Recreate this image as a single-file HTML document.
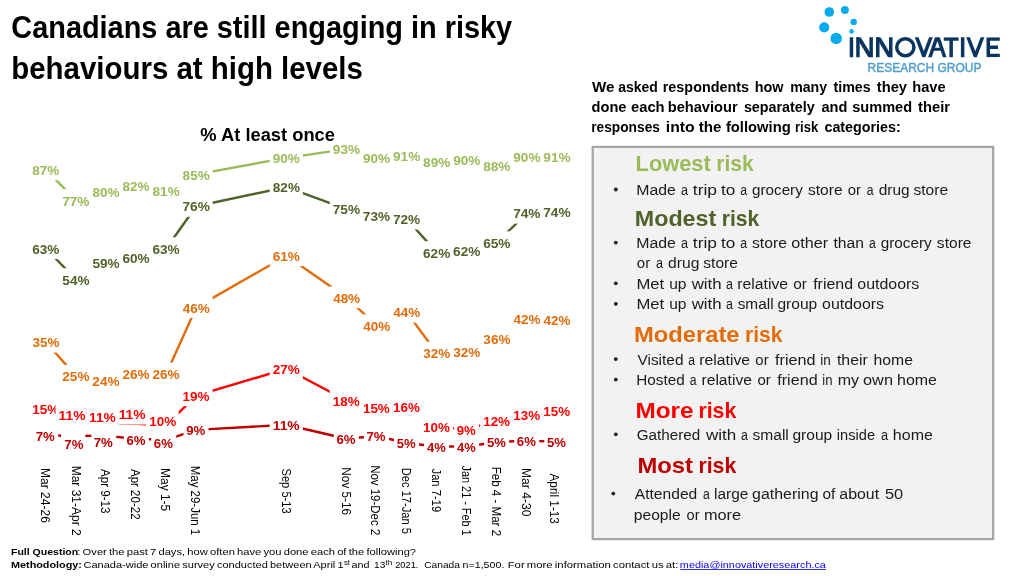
<!DOCTYPE html>
<html><head><meta charset="utf-8"><title>Canadians are still engaging in risky behaviours at high levels</title>
<style>
html,body{margin:0;padding:0;background:#fff;}
body{width:1024px;height:576px;overflow:hidden;font-family:"Liberation Sans",sans-serif;}
svg{display:block;will-change:transform;}
svg text{font-family:"Liberation Sans",sans-serif;white-space:pre;}
</style></head><body>
<svg width="1024" height="576" viewBox="0 0 1024 576">
<text x="11.32" y="38.00" font-size="30.6" fill="#000" font-weight="bold" textLength="500.83" lengthAdjust="spacingAndGlyphs">Canadians are still engaging in risky</text>
<text x="11.29" y="78.50" font-size="30.6" fill="#000" font-weight="bold" textLength="351.60" lengthAdjust="spacingAndGlyphs">behaviours at high levels</text>
<polyline points="45.9,169.60 75.97,200.40 106.03,192.25 136.09,185.90 166.16,190.75 196.23,174.40 286.42,157.90 346.55,149.10 376.62,157.60 406.68,155.60 436.75,161.60 466.81,159.40 496.88,165.60 526.94,156.90 557.0,156.40" fill="none" stroke="#9BBB59" stroke-width="2.4" stroke-linejoin="round" stroke-linecap="round"/>
<polyline points="45.9,248.50 75.97,279.50 106.03,262.50 136.09,257.60 166.16,248.50 196.23,206.25 286.42,187.10 346.55,209.10 376.62,215.60 406.68,219.00 436.75,252.40 466.81,251.00 496.88,242.60 526.94,213.10 557.0,211.60" fill="none" stroke="#4F6228" stroke-width="2.4" stroke-linejoin="round" stroke-linecap="round"/>
<polyline points="45.9,342.00 75.97,376.10 106.03,381.10 136.09,373.90 166.16,373.90 196.23,307.40 286.42,255.70 346.55,297.60 376.62,325.60 406.68,312.10 436.75,353.00 466.81,351.60 496.88,338.60 526.94,318.60 557.0,320.25" fill="none" stroke="#E36C0A" stroke-width="2.4" stroke-linejoin="round" stroke-linecap="round"/>
<polyline points="45.9,409.25 75.97,422.30 106.03,423.20 136.09,423.90 166.16,425.20 196.23,395.60 286.42,368.75 346.55,400.50 376.62,408.00 406.68,406.50 436.75,426.75 466.81,429.40 496.88,420.75 526.94,414.50 557.0,410.40" fill="none" stroke="#FF0000" stroke-width="2.4" stroke-linejoin="round" stroke-linecap="round"/>
<polyline points="45.9,435.50 75.97,435.70 106.03,435.90 136.09,438.80 166.16,439.90 196.23,429.90 286.42,424.75 346.55,438.75 376.62,436.00 406.68,443.00 436.75,446.50 466.81,446.50 496.88,442.00 526.94,440.75 557.0,441.60" fill="none" stroke="#C00000" stroke-width="2.4" stroke-linejoin="round" stroke-linecap="round"/>
<rect x="29.20" y="158.35" width="33.10" height="21.8" fill="#fff"/>
<text x="32.28" y="174.75" font-size="13.3" fill="#9BBB59" font-weight="bold" textLength="27.18" lengthAdjust="spacingAndGlyphs">87%</text>
<rect x="59.27" y="189.15" width="33.10" height="21.8" fill="#fff"/>
<text x="62.20" y="205.55" font-size="13.3" fill="#9BBB59" font-weight="bold" textLength="27.34" lengthAdjust="spacingAndGlyphs">77%</text>
<rect x="89.33" y="181.00" width="33.10" height="21.8" fill="#fff"/>
<text x="92.41" y="197.40" font-size="13.3" fill="#9BBB59" font-weight="bold" textLength="27.18" lengthAdjust="spacingAndGlyphs">80%</text>
<rect x="119.39" y="174.65" width="33.10" height="21.8" fill="#fff"/>
<text x="122.47" y="191.05" font-size="13.3" fill="#9BBB59" font-weight="bold" textLength="27.18" lengthAdjust="spacingAndGlyphs">82%</text>
<rect x="149.46" y="179.50" width="33.10" height="21.8" fill="#fff"/>
<text x="152.54" y="195.90" font-size="13.3" fill="#9BBB59" font-weight="bold" textLength="27.18" lengthAdjust="spacingAndGlyphs">81%</text>
<rect x="179.53" y="163.15" width="33.10" height="21.8" fill="#fff"/>
<text x="182.61" y="179.55" font-size="13.3" fill="#9BBB59" font-weight="bold" textLength="27.18" lengthAdjust="spacingAndGlyphs">85%</text>
<rect x="269.72" y="146.65" width="33.10" height="21.8" fill="#fff"/>
<text x="272.76" y="163.05" font-size="13.3" fill="#9BBB59" font-weight="bold" textLength="27.22" lengthAdjust="spacingAndGlyphs">90%</text>
<rect x="329.85" y="137.85" width="33.10" height="21.8" fill="#fff"/>
<text x="332.89" y="154.25" font-size="13.3" fill="#9BBB59" font-weight="bold" textLength="27.22" lengthAdjust="spacingAndGlyphs">93%</text>
<rect x="359.92" y="146.35" width="33.10" height="21.8" fill="#fff"/>
<text x="362.96" y="162.75" font-size="13.3" fill="#9BBB59" font-weight="bold" textLength="27.22" lengthAdjust="spacingAndGlyphs">90%</text>
<rect x="389.98" y="144.35" width="33.10" height="21.8" fill="#fff"/>
<text x="393.02" y="160.75" font-size="13.3" fill="#9BBB59" font-weight="bold" textLength="27.22" lengthAdjust="spacingAndGlyphs">91%</text>
<rect x="420.05" y="150.35" width="33.10" height="21.8" fill="#fff"/>
<text x="423.13" y="166.75" font-size="13.3" fill="#9BBB59" font-weight="bold" textLength="27.18" lengthAdjust="spacingAndGlyphs">89%</text>
<rect x="450.11" y="148.15" width="33.10" height="21.8" fill="#fff"/>
<text x="453.15" y="164.55" font-size="13.3" fill="#9BBB59" font-weight="bold" textLength="27.22" lengthAdjust="spacingAndGlyphs">90%</text>
<rect x="480.18" y="154.35" width="33.10" height="21.8" fill="#fff"/>
<text x="483.26" y="170.75" font-size="13.3" fill="#9BBB59" font-weight="bold" textLength="27.18" lengthAdjust="spacingAndGlyphs">88%</text>
<rect x="510.24" y="145.65" width="33.10" height="21.8" fill="#fff"/>
<text x="513.28" y="162.05" font-size="13.3" fill="#9BBB59" font-weight="bold" textLength="27.22" lengthAdjust="spacingAndGlyphs">90%</text>
<rect x="540.30" y="145.15" width="33.10" height="21.8" fill="#fff"/>
<text x="543.34" y="161.55" font-size="13.3" fill="#9BBB59" font-weight="bold" textLength="27.22" lengthAdjust="spacingAndGlyphs">91%</text>
<rect x="29.20" y="237.25" width="33.10" height="21.8" fill="#fff"/>
<text x="32.21" y="253.65" font-size="13.3" fill="#4F6228" font-weight="bold" textLength="27.25" lengthAdjust="spacingAndGlyphs">63%</text>
<rect x="59.27" y="268.25" width="33.10" height="21.8" fill="#fff"/>
<text x="62.36" y="284.65" font-size="13.3" fill="#4F6228" font-weight="bold" textLength="27.17" lengthAdjust="spacingAndGlyphs">54%</text>
<rect x="89.33" y="251.25" width="33.10" height="21.8" fill="#fff"/>
<text x="92.42" y="267.65" font-size="13.3" fill="#4F6228" font-weight="bold" textLength="27.17" lengthAdjust="spacingAndGlyphs">59%</text>
<rect x="119.39" y="246.35" width="33.10" height="21.8" fill="#fff"/>
<text x="122.40" y="262.75" font-size="13.3" fill="#4F6228" font-weight="bold" textLength="27.25" lengthAdjust="spacingAndGlyphs">60%</text>
<rect x="149.46" y="237.25" width="33.10" height="21.8" fill="#fff"/>
<text x="152.47" y="253.65" font-size="13.3" fill="#4F6228" font-weight="bold" textLength="27.25" lengthAdjust="spacingAndGlyphs">63%</text>
<rect x="179.53" y="195.00" width="33.10" height="21.8" fill="#fff"/>
<text x="182.46" y="211.40" font-size="13.3" fill="#4F6228" font-weight="bold" textLength="27.34" lengthAdjust="spacingAndGlyphs">76%</text>
<rect x="269.72" y="175.85" width="33.10" height="21.8" fill="#fff"/>
<text x="272.80" y="192.25" font-size="13.3" fill="#4F6228" font-weight="bold" textLength="27.18" lengthAdjust="spacingAndGlyphs">82%</text>
<rect x="329.85" y="197.85" width="33.10" height="21.8" fill="#fff"/>
<text x="332.78" y="214.25" font-size="13.3" fill="#4F6228" font-weight="bold" textLength="27.34" lengthAdjust="spacingAndGlyphs">75%</text>
<rect x="359.92" y="204.35" width="33.10" height="21.8" fill="#fff"/>
<text x="362.85" y="220.75" font-size="13.3" fill="#4F6228" font-weight="bold" textLength="27.34" lengthAdjust="spacingAndGlyphs">73%</text>
<rect x="389.98" y="207.75" width="33.10" height="21.8" fill="#fff"/>
<text x="392.91" y="224.15" font-size="13.3" fill="#4F6228" font-weight="bold" textLength="27.34" lengthAdjust="spacingAndGlyphs">72%</text>
<rect x="420.05" y="241.15" width="33.10" height="21.8" fill="#fff"/>
<text x="423.06" y="257.55" font-size="13.3" fill="#4F6228" font-weight="bold" textLength="27.25" lengthAdjust="spacingAndGlyphs">62%</text>
<rect x="450.11" y="239.75" width="33.10" height="21.8" fill="#fff"/>
<text x="453.12" y="256.15" font-size="13.3" fill="#4F6228" font-weight="bold" textLength="27.25" lengthAdjust="spacingAndGlyphs">62%</text>
<rect x="480.18" y="231.35" width="33.10" height="21.8" fill="#fff"/>
<text x="483.19" y="247.75" font-size="13.3" fill="#4F6228" font-weight="bold" textLength="27.25" lengthAdjust="spacingAndGlyphs">65%</text>
<rect x="510.24" y="201.85" width="33.10" height="21.8" fill="#fff"/>
<text x="513.17" y="218.25" font-size="13.3" fill="#4F6228" font-weight="bold" textLength="27.34" lengthAdjust="spacingAndGlyphs">74%</text>
<rect x="540.30" y="200.35" width="33.10" height="21.8" fill="#fff"/>
<text x="543.23" y="216.75" font-size="13.3" fill="#4F6228" font-weight="bold" textLength="27.34" lengthAdjust="spacingAndGlyphs">74%</text>
<rect x="29.20" y="330.75" width="33.10" height="21.8" fill="#fff"/>
<text x="32.40" y="347.15" font-size="13.3" fill="#E36C0A" font-weight="bold" textLength="27.06" lengthAdjust="spacingAndGlyphs">35%</text>
<rect x="59.27" y="364.85" width="33.10" height="21.8" fill="#fff"/>
<text x="62.31" y="381.25" font-size="13.3" fill="#E36C0A" font-weight="bold" textLength="27.22" lengthAdjust="spacingAndGlyphs">25%</text>
<rect x="89.33" y="369.85" width="33.10" height="21.8" fill="#fff"/>
<text x="92.37" y="386.25" font-size="13.3" fill="#E36C0A" font-weight="bold" textLength="27.22" lengthAdjust="spacingAndGlyphs">24%</text>
<rect x="119.39" y="362.65" width="33.10" height="21.8" fill="#fff"/>
<text x="122.43" y="379.05" font-size="13.3" fill="#E36C0A" font-weight="bold" textLength="27.22" lengthAdjust="spacingAndGlyphs">26%</text>
<rect x="149.46" y="362.65" width="33.10" height="21.8" fill="#fff"/>
<text x="152.50" y="379.05" font-size="13.3" fill="#E36C0A" font-weight="bold" textLength="27.22" lengthAdjust="spacingAndGlyphs">26%</text>
<rect x="179.53" y="296.15" width="33.10" height="21.8" fill="#fff"/>
<text x="182.83" y="312.55" font-size="13.3" fill="#E36C0A" font-weight="bold" textLength="26.96" lengthAdjust="spacingAndGlyphs">46%</text>
<rect x="269.72" y="244.45" width="33.10" height="21.8" fill="#fff"/>
<text x="272.73" y="260.85" font-size="13.3" fill="#E36C0A" font-weight="bold" textLength="27.25" lengthAdjust="spacingAndGlyphs">61%</text>
<rect x="329.85" y="286.35" width="33.10" height="21.8" fill="#fff"/>
<text x="333.15" y="302.75" font-size="13.3" fill="#E36C0A" font-weight="bold" textLength="26.96" lengthAdjust="spacingAndGlyphs">48%</text>
<rect x="359.92" y="314.35" width="33.10" height="21.8" fill="#fff"/>
<text x="363.22" y="330.75" font-size="13.3" fill="#E36C0A" font-weight="bold" textLength="26.96" lengthAdjust="spacingAndGlyphs">40%</text>
<rect x="389.98" y="300.85" width="33.10" height="21.8" fill="#fff"/>
<text x="393.28" y="317.25" font-size="13.3" fill="#E36C0A" font-weight="bold" textLength="26.96" lengthAdjust="spacingAndGlyphs">44%</text>
<rect x="420.05" y="341.75" width="33.10" height="21.8" fill="#fff"/>
<text x="423.25" y="358.15" font-size="13.3" fill="#E36C0A" font-weight="bold" textLength="27.06" lengthAdjust="spacingAndGlyphs">32%</text>
<rect x="450.11" y="340.35" width="33.10" height="21.8" fill="#fff"/>
<text x="453.31" y="356.75" font-size="13.3" fill="#E36C0A" font-weight="bold" textLength="27.06" lengthAdjust="spacingAndGlyphs">32%</text>
<rect x="480.18" y="327.35" width="33.10" height="21.8" fill="#fff"/>
<text x="483.38" y="343.75" font-size="13.3" fill="#E36C0A" font-weight="bold" textLength="27.06" lengthAdjust="spacingAndGlyphs">36%</text>
<rect x="510.24" y="307.35" width="33.10" height="21.8" fill="#fff"/>
<text x="513.54" y="323.75" font-size="13.3" fill="#E36C0A" font-weight="bold" textLength="26.96" lengthAdjust="spacingAndGlyphs">42%</text>
<rect x="540.30" y="309.00" width="33.10" height="21.8" fill="#fff"/>
<text x="543.60" y="325.40" font-size="13.3" fill="#E36C0A" font-weight="bold" textLength="26.96" lengthAdjust="spacingAndGlyphs">42%</text>
<rect x="29.20" y="398.00" width="33.10" height="21.8" fill="#fff"/>
<text x="32.22" y="414.40" font-size="13.3" fill="#FF0000" font-weight="bold" textLength="26.89" lengthAdjust="spacingAndGlyphs">15%</text>
<rect x="55.65" y="403.45" width="33.10" height="21.8" fill="#fff"/>
<text x="58.64" y="419.85" font-size="13.3" fill="#FF0000" font-weight="bold" textLength="26.92" lengthAdjust="spacingAndGlyphs">11%</text>
<rect x="86.00" y="405.45" width="33.10" height="21.8" fill="#fff"/>
<text x="88.99" y="421.85" font-size="13.3" fill="#FF0000" font-weight="bold" textLength="26.92" lengthAdjust="spacingAndGlyphs">11%</text>
<rect x="115.70" y="402.75" width="33.10" height="21.8" fill="#fff"/>
<text x="118.69" y="419.15" font-size="13.3" fill="#FF0000" font-weight="bold" textLength="26.92" lengthAdjust="spacingAndGlyphs">11%</text>
<rect x="146.20" y="409.75" width="32.50" height="21.8" fill="#fff"/>
<text x="149.22" y="426.15" font-size="13.3" fill="#FF0000" font-weight="bold" textLength="26.89" lengthAdjust="spacingAndGlyphs">10%</text>
<rect x="179.53" y="384.35" width="33.10" height="21.8" fill="#fff"/>
<text x="182.55" y="400.75" font-size="13.3" fill="#FF0000" font-weight="bold" textLength="26.89" lengthAdjust="spacingAndGlyphs">19%</text>
<rect x="269.72" y="357.50" width="33.10" height="21.8" fill="#fff"/>
<text x="272.76" y="373.90" font-size="13.3" fill="#FF0000" font-weight="bold" textLength="27.22" lengthAdjust="spacingAndGlyphs">27%</text>
<rect x="329.85" y="389.25" width="33.10" height="21.8" fill="#fff"/>
<text x="332.87" y="405.65" font-size="13.3" fill="#FF0000" font-weight="bold" textLength="26.89" lengthAdjust="spacingAndGlyphs">18%</text>
<rect x="359.92" y="396.75" width="33.10" height="21.8" fill="#fff"/>
<text x="362.94" y="413.15" font-size="13.3" fill="#FF0000" font-weight="bold" textLength="26.89" lengthAdjust="spacingAndGlyphs">15%</text>
<rect x="389.98" y="395.25" width="33.10" height="21.8" fill="#fff"/>
<text x="393.00" y="411.65" font-size="13.3" fill="#FF0000" font-weight="bold" textLength="26.89" lengthAdjust="spacingAndGlyphs">16%</text>
<rect x="420.05" y="415.50" width="33.10" height="21.8" fill="#fff"/>
<text x="423.07" y="431.90" font-size="13.3" fill="#FF0000" font-weight="bold" textLength="26.89" lengthAdjust="spacingAndGlyphs">10%</text>
<rect x="454.11" y="418.15" width="25.00" height="21.8" fill="#fff"/>
<text x="456.76" y="434.55" font-size="13.3" fill="#FF0000" font-weight="bold" textLength="18.99" lengthAdjust="spacingAndGlyphs">9%</text>
<rect x="480.18" y="409.50" width="33.10" height="21.8" fill="#fff"/>
<text x="483.20" y="425.90" font-size="13.3" fill="#FF0000" font-weight="bold" textLength="26.89" lengthAdjust="spacingAndGlyphs">12%</text>
<rect x="510.24" y="403.25" width="33.10" height="21.8" fill="#fff"/>
<text x="513.26" y="419.65" font-size="13.3" fill="#FF0000" font-weight="bold" textLength="26.89" lengthAdjust="spacingAndGlyphs">13%</text>
<rect x="540.30" y="399.15" width="33.10" height="21.8" fill="#fff"/>
<text x="543.32" y="415.55" font-size="13.3" fill="#FF0000" font-weight="bold" textLength="26.89" lengthAdjust="spacingAndGlyphs">15%</text>
<rect x="33.20" y="424.25" width="25.00" height="21.8" fill="#fff"/>
<text x="35.74" y="440.65" font-size="13.3" fill="#C00000" font-weight="bold" textLength="19.10" lengthAdjust="spacingAndGlyphs">7%</text>
<rect x="61.10" y="432.85" width="24.30" height="21.8" fill="#fff"/>
<text x="64.34" y="449.25" font-size="13.3" fill="#C00000" font-weight="bold" textLength="19.10" lengthAdjust="spacingAndGlyphs">7%</text>
<rect x="91.40" y="430.75" width="24.80" height="21.8" fill="#fff"/>
<text x="93.74" y="447.15" font-size="13.3" fill="#C00000" font-weight="bold" textLength="19.10" lengthAdjust="spacingAndGlyphs">7%</text>
<rect x="123.90" y="428.50" width="25.00" height="21.8" fill="#fff"/>
<text x="126.53" y="444.90" font-size="13.3" fill="#C00000" font-weight="bold" textLength="19.02" lengthAdjust="spacingAndGlyphs">6%</text>
<rect x="151.20" y="431.75" width="25.00" height="21.8" fill="#fff"/>
<text x="153.83" y="448.15" font-size="13.3" fill="#C00000" font-weight="bold" textLength="19.02" lengthAdjust="spacingAndGlyphs">6%</text>
<rect x="183.53" y="418.65" width="25.00" height="21.8" fill="#fff"/>
<text x="186.18" y="435.05" font-size="13.3" fill="#C00000" font-weight="bold" textLength="18.99" lengthAdjust="spacingAndGlyphs">9%</text>
<rect x="269.72" y="413.50" width="33.10" height="21.8" fill="#fff"/>
<text x="272.71" y="429.90" font-size="13.3" fill="#C00000" font-weight="bold" textLength="26.92" lengthAdjust="spacingAndGlyphs">11%</text>
<rect x="333.85" y="427.50" width="25.00" height="21.8" fill="#fff"/>
<text x="336.48" y="443.90" font-size="13.3" fill="#C00000" font-weight="bold" textLength="19.02" lengthAdjust="spacingAndGlyphs">6%</text>
<rect x="363.92" y="424.75" width="25.00" height="21.8" fill="#fff"/>
<text x="366.46" y="441.15" font-size="13.3" fill="#C00000" font-weight="bold" textLength="19.10" lengthAdjust="spacingAndGlyphs">7%</text>
<rect x="393.98" y="431.75" width="25.00" height="21.8" fill="#fff"/>
<text x="396.69" y="448.15" font-size="13.3" fill="#C00000" font-weight="bold" textLength="18.94" lengthAdjust="spacingAndGlyphs">5%</text>
<rect x="424.05" y="435.25" width="25.00" height="21.8" fill="#fff"/>
<text x="426.96" y="451.65" font-size="13.3" fill="#C00000" font-weight="bold" textLength="18.74" lengthAdjust="spacingAndGlyphs">4%</text>
<rect x="454.11" y="435.25" width="25.00" height="21.8" fill="#fff"/>
<text x="457.02" y="451.65" font-size="13.3" fill="#C00000" font-weight="bold" textLength="18.74" lengthAdjust="spacingAndGlyphs">4%</text>
<rect x="484.18" y="430.75" width="25.00" height="21.8" fill="#fff"/>
<text x="486.89" y="447.15" font-size="13.3" fill="#C00000" font-weight="bold" textLength="18.94" lengthAdjust="spacingAndGlyphs">5%</text>
<rect x="514.24" y="429.50" width="25.00" height="21.8" fill="#fff"/>
<text x="516.87" y="445.90" font-size="13.3" fill="#C00000" font-weight="bold" textLength="19.02" lengthAdjust="spacingAndGlyphs">6%</text>
<rect x="544.30" y="430.35" width="25.00" height="21.8" fill="#fff"/>
<text x="547.01" y="446.75" font-size="13.3" fill="#C00000" font-weight="bold" textLength="18.94" lengthAdjust="spacingAndGlyphs">5%</text>
<text x="200.36" y="141.00" font-size="17.6" fill="#000" font-weight="bold" textLength="134.56" lengthAdjust="spacingAndGlyphs">% At least once</text>
<text transform="translate(40.60 469.00) rotate(90)" x="-0.99" y="0" font-size="13.1" fill="#000" textLength="54.90" lengthAdjust="spacingAndGlyphs">Mar 24-26</text>
<text transform="translate(71.60 466.70) rotate(90)" x="-0.98" y="0" font-size="13.1" fill="#000" textLength="69.89" lengthAdjust="spacingAndGlyphs">Mar 31-Apr 2</text>
<text transform="translate(100.90 469.00) rotate(90)" x="-0.02" y="0" font-size="13.1" fill="#000" textLength="44.53" lengthAdjust="spacingAndGlyphs">Apr 9-13</text>
<text transform="translate(131.10 469.00) rotate(90)" x="-0.02" y="0" font-size="13.1" fill="#000" textLength="50.61" lengthAdjust="spacingAndGlyphs">Apr 20-22</text>
<text transform="translate(160.60 469.00) rotate(90)" x="-0.98" y="0" font-size="13.1" fill="#000" textLength="43.17" lengthAdjust="spacingAndGlyphs">May 1-5</text>
<text transform="translate(191.20 466.70) rotate(90)" x="-0.94" y="0" font-size="13.1" fill="#000" textLength="69.50" lengthAdjust="spacingAndGlyphs">May 29-Jun 1</text>
<text transform="translate(281.90 469.00) rotate(90)" x="-0.50" y="0" font-size="13.1" fill="#000" textLength="45.19" lengthAdjust="spacingAndGlyphs">Sep 5-13</text>
<text transform="translate(341.60 468.30) rotate(90)" x="-0.97" y="0" font-size="13.1" fill="#000" textLength="47.78" lengthAdjust="spacingAndGlyphs">Nov 5-16</text>
<text transform="translate(371.30 466.10) rotate(90)" x="-0.94" y="0" font-size="13.1" fill="#000" textLength="70.11" lengthAdjust="spacingAndGlyphs">Nov 19-Dec 2</text>
<text transform="translate(401.60 468.70) rotate(90)" x="-0.91" y="0" font-size="13.1" fill="#000" textLength="66.17" lengthAdjust="spacingAndGlyphs">Dec 17-Jan 5</text>
<text transform="translate(431.80 468.70) rotate(90)" x="-0.17" y="0" font-size="13.1" fill="#000" textLength="43.60" lengthAdjust="spacingAndGlyphs">Jan 7-19</text>
<text transform="translate(462.00 465.70) rotate(90)" x="-0.16" y="0" font-size="13.1" fill="#000" textLength="70.09" lengthAdjust="spacingAndGlyphs">Jan 21 - Feb 1</text>
<text transform="translate(492.30 467.70) rotate(90)" x="-0.95" y="0" font-size="13.1" fill="#000" textLength="69.32" lengthAdjust="spacingAndGlyphs">Feb 4 - Mar 2</text>
<text transform="translate(522.00 469.00) rotate(90)" x="-0.99" y="0" font-size="13.1" fill="#000" textLength="48.46" lengthAdjust="spacingAndGlyphs">Mar 4-30</text>
<text transform="translate(550.10 473.50) rotate(90)" x="-0.02" y="0" font-size="13.1" fill="#000" textLength="50.43" lengthAdjust="spacingAndGlyphs">April 1-13</text>
<text x="592.08" y="92.00" font-size="15.0" fill="#000" font-weight="bold" textLength="22.43" lengthAdjust="spacingAndGlyphs">We</text>
<text x="618.19" y="92.00" font-size="15.0" fill="#000" font-weight="bold" textLength="39.72" lengthAdjust="spacingAndGlyphs">asked</text>
<text x="662.77" y="92.00" font-size="15.0" fill="#000" font-weight="bold" textLength="86.31" lengthAdjust="spacingAndGlyphs">respondents</text>
<text x="754.70" y="92.00" font-size="15.0" fill="#000" font-weight="bold" textLength="28.86" lengthAdjust="spacingAndGlyphs">how</text>
<text x="790.18" y="92.00" font-size="15.0" fill="#000" font-weight="bold" textLength="36.89" lengthAdjust="spacingAndGlyphs">many</text>
<text x="833.43" y="92.00" font-size="15.0" fill="#000" font-weight="bold" textLength="37.25" lengthAdjust="spacingAndGlyphs">times</text>
<text x="876.72" y="92.00" font-size="15.0" fill="#000" font-weight="bold" textLength="30.35" lengthAdjust="spacingAndGlyphs">they</text>
<text x="912.19" y="92.00" font-size="15.0" fill="#000" font-weight="bold" textLength="33.41" lengthAdjust="spacingAndGlyphs">have</text>
<text x="591.50" y="112.30" font-size="15.0" fill="#000" font-weight="bold" textLength="34.99" lengthAdjust="spacingAndGlyphs">done</text>
<text x="631.03" y="112.30" font-size="15.0" fill="#000" font-weight="bold" textLength="33.59" lengthAdjust="spacingAndGlyphs">each</text>
<text x="667.75" y="112.30" font-size="15.0" fill="#000" font-weight="bold" textLength="69.85" lengthAdjust="spacingAndGlyphs">behaviour</text>
<text x="743.90" y="112.30" font-size="15.0" fill="#000" font-weight="bold" textLength="70.87" lengthAdjust="spacingAndGlyphs">separately</text>
<text x="821.48" y="112.30" font-size="15.0" fill="#000" font-weight="bold" textLength="25.99" lengthAdjust="spacingAndGlyphs">and</text>
<text x="852.19" y="112.30" font-size="15.0" fill="#000" font-weight="bold" textLength="59.88" lengthAdjust="spacingAndGlyphs">summed</text>
<text x="918.12" y="112.30" font-size="15.0" fill="#000" font-weight="bold" textLength="31.88" lengthAdjust="spacingAndGlyphs">their</text>
<text x="591.21" y="132.40" font-size="15.0" fill="#000" font-weight="bold" textLength="68.75" lengthAdjust="spacingAndGlyphs">responses</text>
<text x="665.81" y="132.40" font-size="15.0" fill="#000" font-weight="bold" textLength="28.90" lengthAdjust="spacingAndGlyphs">into</text>
<text x="698.82" y="132.40" font-size="15.0" fill="#000" font-weight="bold" textLength="22.70" lengthAdjust="spacingAndGlyphs">the</text>
<text x="725.95" y="132.40" font-size="15.0" fill="#000" font-weight="bold" textLength="64.73" lengthAdjust="spacingAndGlyphs">following</text>
<text x="795.06" y="132.40" font-size="15.0" fill="#000" font-weight="bold" textLength="23.12" lengthAdjust="spacingAndGlyphs">risk</text>
<text x="824.44" y="132.40" font-size="15.0" fill="#000" font-weight="bold" textLength="76.34" lengthAdjust="spacingAndGlyphs">categories:</text>
<rect x="592.7" y="146.9" width="400.5" height="392.3" fill="#F2F2F2" stroke="#A6A6A6" stroke-width="2.3" stroke-linejoin="round"/>
<text x="635.56" y="171.30" font-size="21.6" fill="#9BBB59" font-weight="bold" textLength="75.20" lengthAdjust="spacingAndGlyphs">Lowest</text>
<text x="716.23" y="171.30" font-size="21.6" fill="#9BBB59" font-weight="bold" textLength="37.54" lengthAdjust="spacingAndGlyphs">risk</text>
<text x="636.20" y="194.50" font-size="14.7" fill="#1a1a1a" textLength="39.71" lengthAdjust="spacingAndGlyphs">Made</text>
<text x="680.97" y="194.50" font-size="14.7" fill="#1a1a1a" textLength="7.02" lengthAdjust="spacingAndGlyphs">a</text>
<text x="692.84" y="194.50" font-size="14.7" fill="#1a1a1a" textLength="24.18" lengthAdjust="spacingAndGlyphs">trip</text>
<text x="721.04" y="194.50" font-size="14.7" fill="#1a1a1a" textLength="14.26" lengthAdjust="spacingAndGlyphs">to</text>
<text x="740.29" y="194.50" font-size="14.7" fill="#1a1a1a" textLength="6.80" lengthAdjust="spacingAndGlyphs">a</text>
<text x="752.06" y="194.50" font-size="14.7" fill="#1a1a1a" textLength="50.76" lengthAdjust="spacingAndGlyphs">grocery</text>
<text x="807.98" y="194.50" font-size="14.7" fill="#1a1a1a" textLength="34.71" lengthAdjust="spacingAndGlyphs">store</text>
<text x="847.67" y="194.50" font-size="14.7" fill="#1a1a1a" textLength="13.27" lengthAdjust="spacingAndGlyphs">or</text>
<text x="866.79" y="194.50" font-size="14.7" fill="#1a1a1a" textLength="6.80" lengthAdjust="spacingAndGlyphs">a</text>
<text x="878.75" y="194.50" font-size="14.7" fill="#1a1a1a" textLength="30.95" lengthAdjust="spacingAndGlyphs">drug</text>
<text x="913.48" y="194.50" font-size="14.7" fill="#1a1a1a" textLength="34.71" lengthAdjust="spacingAndGlyphs">store</text>
<circle cx="615.8" cy="189.5" r="1.9" fill="#1a1a1a"/>
<text x="634.76" y="226.30" font-size="21.6" fill="#4F6228" font-weight="bold" textLength="81.52" lengthAdjust="spacingAndGlyphs">Modest</text>
<text x="721.73" y="226.30" font-size="21.6" fill="#4F6228" font-weight="bold" textLength="37.54" lengthAdjust="spacingAndGlyphs">risk</text>
<text x="636.20" y="248.00" font-size="14.7" fill="#1a1a1a" textLength="39.71" lengthAdjust="spacingAndGlyphs">Made</text>
<text x="680.97" y="248.00" font-size="14.7" fill="#1a1a1a" textLength="7.02" lengthAdjust="spacingAndGlyphs">a</text>
<text x="692.84" y="248.00" font-size="14.7" fill="#1a1a1a" textLength="24.18" lengthAdjust="spacingAndGlyphs">trip</text>
<text x="721.04" y="248.00" font-size="14.7" fill="#1a1a1a" textLength="14.26" lengthAdjust="spacingAndGlyphs">to</text>
<text x="740.19" y="248.00" font-size="14.7" fill="#1a1a1a" textLength="6.80" lengthAdjust="spacingAndGlyphs">a</text>
<text x="751.98" y="248.00" font-size="14.7" fill="#1a1a1a" textLength="34.92" lengthAdjust="spacingAndGlyphs">store</text>
<text x="791.32" y="248.00" font-size="14.7" fill="#1a1a1a" textLength="36.84" lengthAdjust="spacingAndGlyphs">other</text>
<text x="833.46" y="248.00" font-size="14.7" fill="#1a1a1a" textLength="30.54" lengthAdjust="spacingAndGlyphs">than</text>
<text x="869.09" y="248.00" font-size="14.7" fill="#1a1a1a" textLength="6.80" lengthAdjust="spacingAndGlyphs">a</text>
<text x="880.66" y="248.00" font-size="14.7" fill="#1a1a1a" textLength="51.07" lengthAdjust="spacingAndGlyphs">grocery</text>
<text x="936.88" y="248.00" font-size="14.7" fill="#1a1a1a" textLength="34.61" lengthAdjust="spacingAndGlyphs">store</text>
<circle cx="615.8" cy="242.6" r="1.9" fill="#1a1a1a"/>
<text x="636.87" y="268.30" font-size="14.7" fill="#1a1a1a" textLength="13.38" lengthAdjust="spacingAndGlyphs">or</text>
<text x="656.07" y="268.30" font-size="14.7" fill="#1a1a1a" textLength="7.02" lengthAdjust="spacingAndGlyphs">a</text>
<text x="668.09" y="268.30" font-size="14.7" fill="#1a1a1a" textLength="31.32" lengthAdjust="spacingAndGlyphs">drug</text>
<text x="703.33" y="268.30" font-size="14.7" fill="#1a1a1a" textLength="34.56" lengthAdjust="spacingAndGlyphs">store</text>
<text x="636.43" y="288.60" font-size="14.7" fill="#1a1a1a" textLength="27.78" lengthAdjust="spacingAndGlyphs">Met</text>
<text x="669.20" y="288.60" font-size="14.7" fill="#1a1a1a" textLength="17.34" lengthAdjust="spacingAndGlyphs">up</text>
<text x="691.70" y="288.60" font-size="14.7" fill="#1a1a1a" textLength="29.95" lengthAdjust="spacingAndGlyphs">with</text>
<text x="725.88" y="288.60" font-size="14.7" fill="#1a1a1a" textLength="6.91" lengthAdjust="spacingAndGlyphs">a</text>
<text x="737.26" y="288.60" font-size="14.7" fill="#1a1a1a" textLength="50.83" lengthAdjust="spacingAndGlyphs">relative</text>
<text x="793.25" y="288.60" font-size="14.7" fill="#1a1a1a" textLength="13.70" lengthAdjust="spacingAndGlyphs">or</text>
<text x="813.18" y="288.60" font-size="14.7" fill="#1a1a1a" textLength="39.85" lengthAdjust="spacingAndGlyphs">friend</text>
<text x="857.33" y="288.60" font-size="14.7" fill="#1a1a1a" textLength="61.99" lengthAdjust="spacingAndGlyphs">outdoors</text>
<circle cx="615.8" cy="283.3" r="1.9" fill="#1a1a1a"/>
<text x="636.43" y="309.00" font-size="14.7" fill="#1a1a1a" textLength="27.78" lengthAdjust="spacingAndGlyphs">Met</text>
<text x="669.20" y="309.00" font-size="14.7" fill="#1a1a1a" textLength="17.34" lengthAdjust="spacingAndGlyphs">up</text>
<text x="691.70" y="309.00" font-size="14.7" fill="#1a1a1a" textLength="29.95" lengthAdjust="spacingAndGlyphs">with</text>
<text x="725.88" y="309.00" font-size="14.7" fill="#1a1a1a" textLength="6.91" lengthAdjust="spacingAndGlyphs">a</text>
<text x="737.68" y="309.00" font-size="14.7" fill="#1a1a1a" textLength="35.94" lengthAdjust="spacingAndGlyphs">small</text>
<text x="777.45" y="309.00" font-size="14.7" fill="#1a1a1a" textLength="39.80" lengthAdjust="spacingAndGlyphs">group</text>
<text x="822.13" y="309.00" font-size="14.7" fill="#1a1a1a" textLength="61.94" lengthAdjust="spacingAndGlyphs">outdoors</text>
<circle cx="615.8" cy="303.8" r="1.9" fill="#1a1a1a"/>
<text x="634.03" y="342.00" font-size="21.6" fill="#E36C0A" font-weight="bold" textLength="105.53" lengthAdjust="spacingAndGlyphs">Moderate</text>
<text x="744.92" y="342.00" font-size="21.6" fill="#E36C0A" font-weight="bold" textLength="37.64" lengthAdjust="spacingAndGlyphs">risk</text>
<text x="637.44" y="364.50" font-size="14.7" fill="#1a1a1a" textLength="46.06" lengthAdjust="spacingAndGlyphs">Visited</text>
<text x="688.24" y="364.50" font-size="14.7" fill="#1a1a1a" textLength="6.75" lengthAdjust="spacingAndGlyphs">a</text>
<text x="699.26" y="364.50" font-size="14.7" fill="#1a1a1a" textLength="50.83" lengthAdjust="spacingAndGlyphs">relative</text>
<text x="755.37" y="364.50" font-size="14.7" fill="#1a1a1a" textLength="13.27" lengthAdjust="spacingAndGlyphs">or</text>
<text x="775.07" y="364.50" font-size="14.7" fill="#1a1a1a" textLength="40.37" lengthAdjust="spacingAndGlyphs">friend</text>
<text x="820.36" y="364.50" font-size="14.7" fill="#1a1a1a" textLength="10.51" lengthAdjust="spacingAndGlyphs">in</text>
<text x="836.96" y="364.50" font-size="14.7" fill="#1a1a1a" textLength="30.80" lengthAdjust="spacingAndGlyphs">their</text>
<text x="873.61" y="364.50" font-size="14.7" fill="#1a1a1a" textLength="39.39" lengthAdjust="spacingAndGlyphs">home</text>
<circle cx="615.8" cy="359.1" r="1.9" fill="#1a1a1a"/>
<text x="636.25" y="385.00" font-size="14.7" fill="#1a1a1a" textLength="48.49" lengthAdjust="spacingAndGlyphs">Hosted</text>
<text x="689.79" y="385.00" font-size="14.7" fill="#1a1a1a" textLength="6.80" lengthAdjust="spacingAndGlyphs">a</text>
<text x="701.47" y="385.00" font-size="14.7" fill="#1a1a1a" textLength="50.47" lengthAdjust="spacingAndGlyphs">relative</text>
<text x="757.47" y="385.00" font-size="14.7" fill="#1a1a1a" textLength="13.38" lengthAdjust="spacingAndGlyphs">or</text>
<text x="777.27" y="385.00" font-size="14.7" fill="#1a1a1a" textLength="40.37" lengthAdjust="spacingAndGlyphs">friend</text>
<text x="822.23" y="385.00" font-size="14.7" fill="#1a1a1a" textLength="10.21" lengthAdjust="spacingAndGlyphs">in</text>
<text x="837.69" y="385.00" font-size="14.7" fill="#1a1a1a" textLength="21.34" lengthAdjust="spacingAndGlyphs">my</text>
<text x="863.07" y="385.00" font-size="14.7" fill="#1a1a1a" textLength="29.88" lengthAdjust="spacingAndGlyphs">own</text>
<text x="897.00" y="385.00" font-size="14.7" fill="#1a1a1a" textLength="40.02" lengthAdjust="spacingAndGlyphs">home</text>
<circle cx="615.8" cy="379.6" r="1.9" fill="#1a1a1a"/>
<text x="635.50" y="417.50" font-size="21.6" fill="#FF0000" font-weight="bold" textLength="58.03" lengthAdjust="spacingAndGlyphs">More</text>
<text x="698.42" y="417.50" font-size="21.6" fill="#FF0000" font-weight="bold" textLength="37.85" lengthAdjust="spacingAndGlyphs">risk</text>
<text x="636.74" y="439.80" font-size="14.7" fill="#1a1a1a" textLength="63.44" lengthAdjust="spacingAndGlyphs">Gathered</text>
<text x="706.00" y="439.80" font-size="14.7" fill="#1a1a1a" textLength="30.36" lengthAdjust="spacingAndGlyphs">with</text>
<text x="741.08" y="439.80" font-size="14.7" fill="#1a1a1a" textLength="6.91" lengthAdjust="spacingAndGlyphs">a</text>
<text x="752.48" y="439.80" font-size="14.7" fill="#1a1a1a" textLength="36.36" lengthAdjust="spacingAndGlyphs">small</text>
<text x="792.45" y="439.80" font-size="14.7" fill="#1a1a1a" textLength="39.80" lengthAdjust="spacingAndGlyphs">group</text>
<text x="836.83" y="439.80" font-size="14.7" fill="#1a1a1a" textLength="38.21" lengthAdjust="spacingAndGlyphs">inside</text>
<text x="881.06" y="439.80" font-size="14.7" fill="#1a1a1a" textLength="7.13" lengthAdjust="spacingAndGlyphs">a</text>
<text x="892.89" y="439.80" font-size="14.7" fill="#1a1a1a" textLength="40.12" lengthAdjust="spacingAndGlyphs">home</text>
<circle cx="615.8" cy="434.3" r="1.9" fill="#1a1a1a"/>
<text x="637.43" y="472.80" font-size="21.6" fill="#C00000" font-weight="bold" textLength="55.56" lengthAdjust="spacingAndGlyphs">Most</text>
<text x="698.42" y="472.80" font-size="21.6" fill="#C00000" font-weight="bold" textLength="37.85" lengthAdjust="spacingAndGlyphs">risk</text>
<text x="634.77" y="499.00" font-size="14.7" fill="#1a1a1a" textLength="62.49" lengthAdjust="spacingAndGlyphs">Attended</text>
<text x="702.89" y="499.00" font-size="14.7" fill="#1a1a1a" textLength="6.80" lengthAdjust="spacingAndGlyphs">a</text>
<text x="713.96" y="499.00" font-size="14.7" fill="#1a1a1a" textLength="34.52" lengthAdjust="spacingAndGlyphs">large</text>
<text x="752.13" y="499.00" font-size="14.7" fill="#1a1a1a" textLength="66.39" lengthAdjust="spacingAndGlyphs">gathering</text>
<text x="822.45" y="499.00" font-size="14.7" fill="#1a1a1a" textLength="12.81" lengthAdjust="spacingAndGlyphs">of</text>
<text x="839.33" y="499.00" font-size="14.7" fill="#1a1a1a" textLength="39.77" lengthAdjust="spacingAndGlyphs">about</text>
<text x="884.95" y="499.00" font-size="14.7" fill="#1a1a1a" textLength="18.18" lengthAdjust="spacingAndGlyphs">50</text>
<circle cx="613.3" cy="493.6" r="1.9" fill="#1a1a1a"/>
<text x="633.80" y="519.50" font-size="14.7" fill="#1a1a1a" textLength="46.89" lengthAdjust="spacingAndGlyphs">people</text>
<text x="686.58" y="519.50" font-size="14.7" fill="#1a1a1a" textLength="13.05" lengthAdjust="spacingAndGlyphs">or</text>
<text x="703.93" y="519.50" font-size="14.7" fill="#1a1a1a" textLength="37.10" lengthAdjust="spacingAndGlyphs">more</text>
<circle cx="829.3" cy="12.0" r="4.8" fill="#08ABEC"/>
<circle cx="844.9" cy="9.9" r="4.0" fill="#08ABEC"/>
<circle cx="853.7" cy="21.9" r="3.2" fill="#08ABEC"/>
<circle cx="851.6" cy="31.4" r="2.3" fill="#08ABEC"/>
<circle cx="824.2" cy="27.4" r="5.1" fill="#08ABEC"/>
<circle cx="836.2" cy="38.4" r="5.7" fill="#08ABEC"/>
<clipPath id="wm"><rect x="840" y="37.2" width="170" height="20.0"/></clipPath>
<g clip-path="url(#wm)" fill="none" stroke="#0A3560" stroke-width="3.5" stroke-linejoin="miter" stroke-miterlimit="20">
<path d="M851.45,35.2 V59.2"/>
<path d="M857.95,35.2 V59.2 M871.15,35.2 V59.2"/>
<polygon points="856.2,37.2 860.7,37.2 872.9,57.2 868.4,57.2" fill="#0A3560" stroke="none"/>
<path d="M877.75,35.2 V59.2 M890.75,35.2 V59.2"/>
<polygon points="876.0,37.2 880.5,37.2 892.5,57.2 888.0,57.2" fill="#0A3560" stroke="none"/>
<path d="M915.17,33.2 L923.80,56.22 L932.43,33.2"/>
<path d="M928.57,61.2 L937.40,35.61 L946.03,61.2"/>
<path d="M933,49.3 H941.8" stroke-width="3"/>
<path d="M943.75,38.95 H958.6 M951.15,37.2 V59.2"/>
<path d="M962.65,35.2 V59.2"/>
<path d="M966.55,33.2 L975.30,56.22 L984.05,33.2"/>
<path d="M999.8,38.95 H988.25 V55.45 H999.8 M988.25,47.2 H998"/>
</g>
<ellipse cx="905.35" cy="47.2" rx="8.6" ry="8.55" fill="none" stroke="#0A3560" stroke-width="3.5"/>
<text x="867.62" y="71.80" font-size="12.3" fill="#4F9FCC" textLength="113.80" lengthAdjust="spacingAndGlyphs" stroke="#4F9FCC" stroke-width="0.45">RESEARCH GROUP</text>
<text x="11.01" y="554.50" font-size="9.8" fill="#000" font-weight="bold" textLength="67.14" lengthAdjust="spacingAndGlyphs">Full Question</text>
<text x="77.32" y="554.50" font-size="9.8" fill="#000" textLength="338.77" lengthAdjust="spacingAndGlyphs" word-spacing="-0.8">: Over the past 7 days, how often have you done each of the following?</text>
<text x="10.99" y="567.80" font-size="9.8" fill="#000" font-weight="bold" textLength="70.96" lengthAdjust="spacingAndGlyphs">Methodology:</text>
<text x="83.46" y="567.80" font-size="9.8" fill="#000" textLength="260.16" lengthAdjust="spacingAndGlyphs" word-spacing="-0.8">Canada-wide online survey conducted between April 1</text>
<text x="343.99" y="564.90" font-size="6.3" fill="#000" textLength="6.06" lengthAdjust="spacingAndGlyphs">st</text>
<text x="351.45" y="567.80" font-size="9.8" fill="#000" textLength="17.95" lengthAdjust="spacingAndGlyphs" word-spacing="-0.8">and</text>
<text x="374.13" y="567.80" font-size="9.8" fill="#000" textLength="11.31" lengthAdjust="spacingAndGlyphs" word-spacing="-0.8">13</text>
<text x="385.58" y="564.90" font-size="6.3" fill="#000" textLength="6.85" lengthAdjust="spacingAndGlyphs">th</text>
<text x="395.24" y="567.80" font-size="9.8" fill="#000" textLength="23.10" lengthAdjust="spacingAndGlyphs" word-spacing="-0.8">2021.</text>
<text x="424.19" y="567.80" font-size="9.8" fill="#000" textLength="35.80" lengthAdjust="spacingAndGlyphs">Canada</text>
<text x="462.60" y="567.80" font-size="9.8" fill="#000" textLength="41.77" lengthAdjust="spacingAndGlyphs">n=1,500.</text>
<text x="507.70" y="567.80" font-size="9.8" fill="#000" textLength="170.70" lengthAdjust="spacingAndGlyphs" word-spacing="-0.8">For more information contact us at:</text>
<text x="679.88" y="567.80" font-size="9.8" fill="#0000FF" textLength="146.01" lengthAdjust="spacingAndGlyphs">media@innovativeresearch.ca</text>
<rect x="680.3" y="569.2" width="145.9" height="0.8" fill="#0000FF"/>
</svg>
</body></html>
